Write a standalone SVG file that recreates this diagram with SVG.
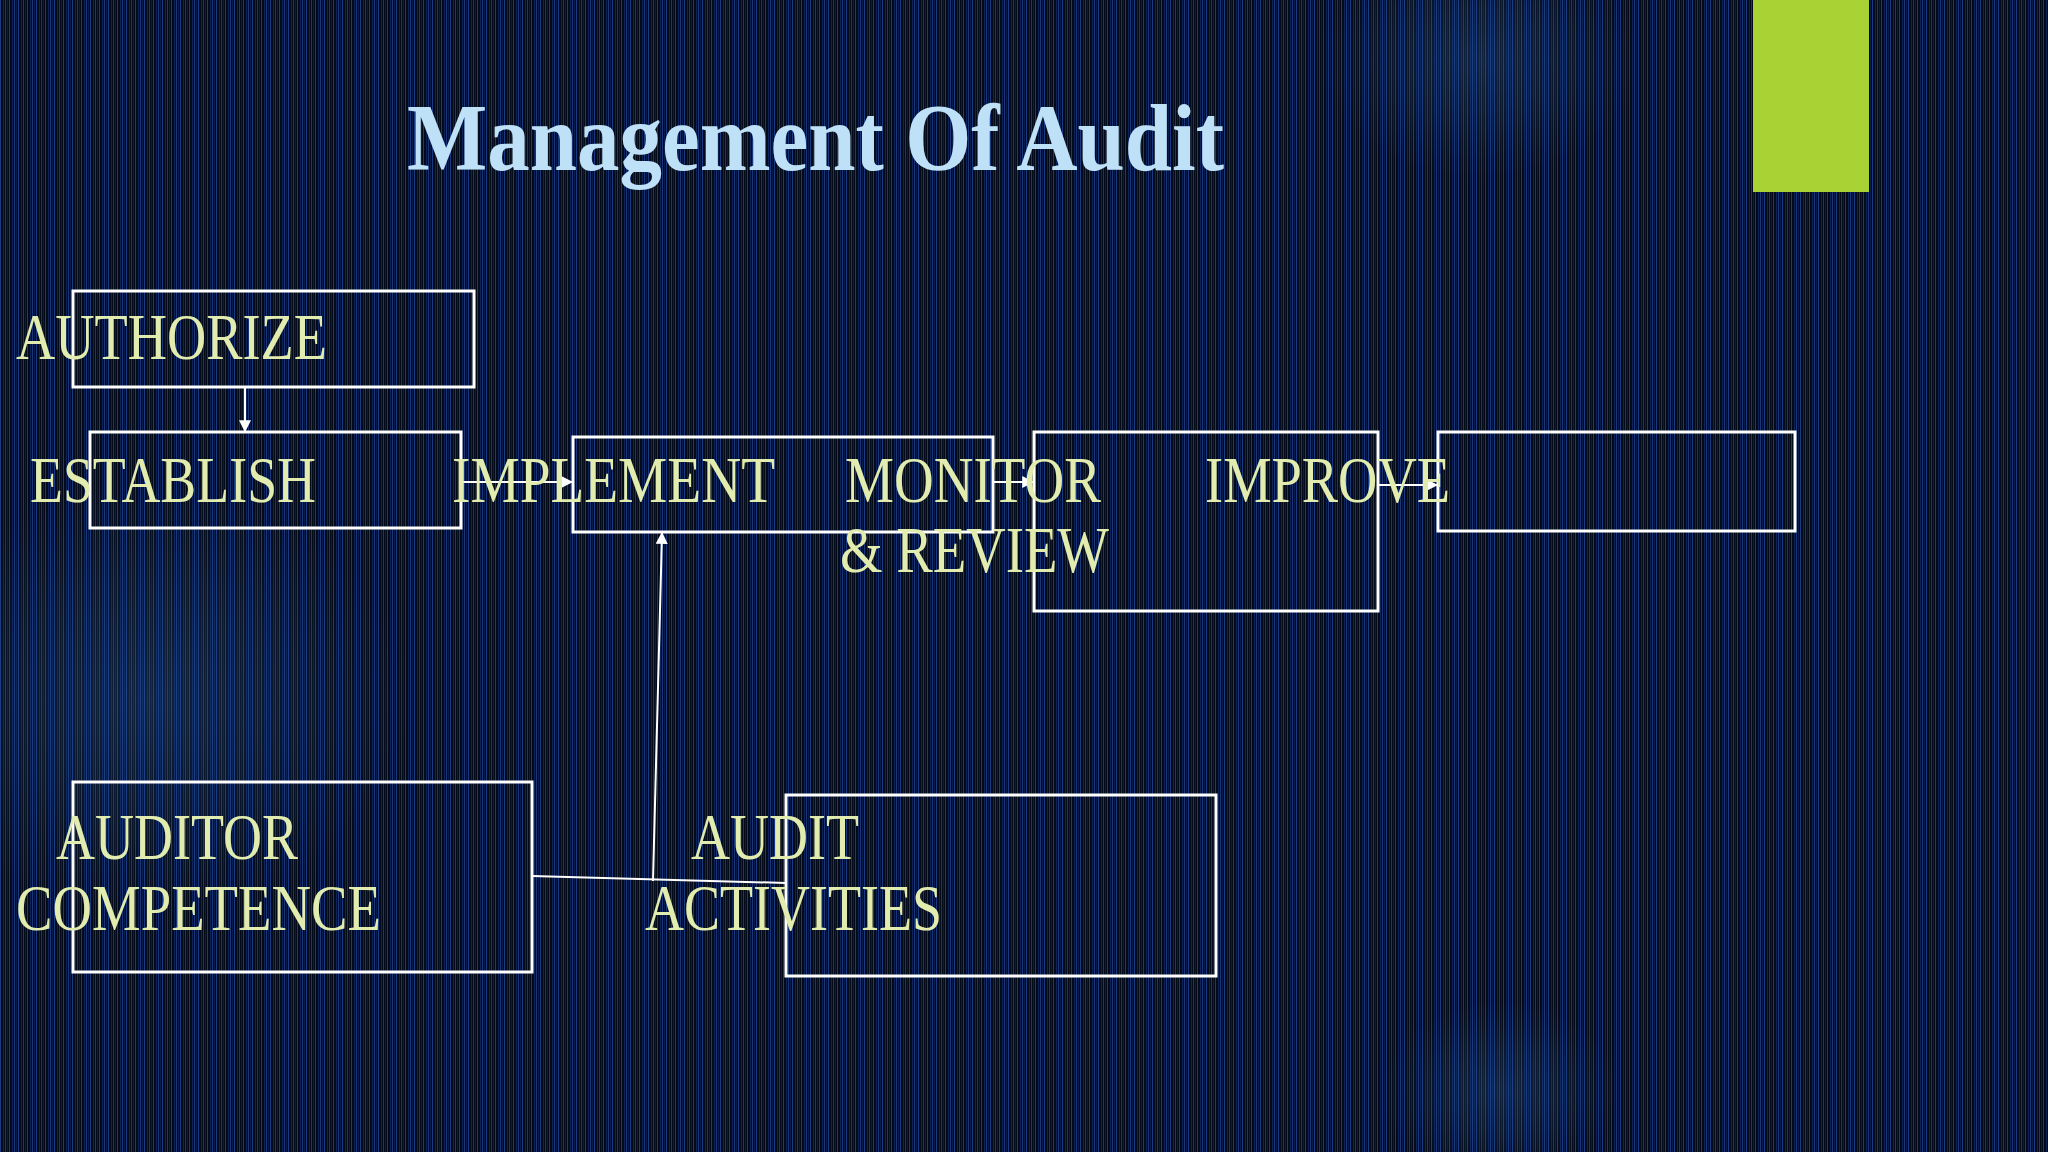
<svg xmlns="http://www.w3.org/2000/svg" width="2048" height="1152" viewBox="0 0 2048 1152">
<defs>
<pattern id="stripes" x="0" y="0" width="9" height="1152" patternUnits="userSpaceOnUse">
<rect x="0" y="0" width="9" height="1152" fill="#030a1a"/>
<rect x="0" y="0" width="1" height="1152" fill="#183a80"/>
<rect x="3" y="0" width="1" height="1152" fill="#0c245a"/>
<rect x="5" y="0" width="1" height="1152" fill="#1a3676"/>
<rect x="7" y="0" width="1" height="1152" fill="#0a1c48"/>
</pattern>
<radialGradient id="glow1" cx="0.5" cy="0.5" r="0.5">
<stop offset="0" stop-color="#2a5a9a" stop-opacity="0.3"/>
<stop offset="1" stop-color="#2a5a9a" stop-opacity="0"/>
</radialGradient>
<marker id="arrow" viewBox="0 0 10 10" refX="9" refY="5" markerWidth="6" markerHeight="6" orient="auto" markerUnits="strokeWidth">
<path d="M0,0 L10,5 L0,10 z" fill="#ffffff"/>
</marker>
<style>
.box{fill:none;stroke:#ffffff;stroke-width:3}
.lbl{font-family:"Liberation Serif","DejaVu Serif",serif;font-size:66px;fill:#e2ecae}
.conn{stroke:#ffffff;stroke-width:2;fill:none}
.title{font-family:"Liberation Serif","DejaVu Serif",serif;font-weight:bold;font-size:96px;fill:#bfe1f7}
</style>
</defs>
<rect x="0" y="0" width="2048" height="1152" fill="url(#stripes)"/>
<ellipse cx="1480" cy="60" rx="160" ry="120" fill="url(#glow1)"/>
<ellipse cx="150" cy="700" rx="260" ry="220" fill="url(#glow1)"/>
<ellipse cx="1500" cy="1090" rx="120" ry="90" fill="url(#glow1)"/>
<rect x="1753" y="0" width="116" height="192" fill="#a9d235"/>
<text class="title" x="407" y="170" textLength="817" lengthAdjust="spacingAndGlyphs">Management Of Audit</text>
<g id="connectors">
<line class="conn" x1="245" y1="387" x2="245" y2="431" marker-end="url(#arrow)"/>
<line class="conn" x1="461" y1="482" x2="572" y2="482" marker-end="url(#arrow)"/>
<line class="conn" x1="993" y1="482" x2="1033" y2="482" marker-end="url(#arrow)"/>
<line class="conn" x1="1378" y1="485" x2="1437" y2="485" marker-end="url(#arrow)"/>
<polyline class="conn" points="532,876 786,883"/>
<line class="conn" x1="653" y1="881" x2="662" y2="533" marker-end="url(#arrow)"/>
</g>
<g id="authorize">
<rect class="box" x="73" y="291" width="401" height="96"/>
<text class="lbl" x="16" y="359" textLength="311" lengthAdjust="spacingAndGlyphs">AUTHORIZE</text>
</g>
<g id="establish">
<rect class="box" x="90" y="432" width="371" height="96"/>
<text class="lbl" x="30" y="502" textLength="286" lengthAdjust="spacingAndGlyphs">ESTABLISH</text>
</g>
<g id="implement">
<rect class="box" x="573" y="437" width="420" height="95"/>
<text class="lbl" x="452" y="502" textLength="323" lengthAdjust="spacingAndGlyphs">IMPLEMENT</text>
</g>
<g id="monitor">
<rect class="box" x="1034" y="432" width="344" height="179"/>
<text class="lbl" x="845" y="502" textLength="256" lengthAdjust="spacingAndGlyphs">MONITOR</text>
<text class="lbl" x="840" y="572" textLength="269" lengthAdjust="spacingAndGlyphs">&amp; REVIEW</text>
</g>
<g id="improve">
<rect class="box" x="1438" y="432" width="357" height="99"/>
<text class="lbl" x="1205" y="502" textLength="245" lengthAdjust="spacingAndGlyphs">IMPROVE</text>
</g>
<g id="auditor-competence">
<rect class="box" x="73" y="782" width="459" height="190"/>
<text class="lbl" x="56" y="859" textLength="242" lengthAdjust="spacingAndGlyphs">AUDITOR</text>
<text class="lbl" x="16" y="930" textLength="365" lengthAdjust="spacingAndGlyphs">COMPETENCE</text>
</g>
<g id="audit-activities">
<rect class="box" x="786" y="795" width="430" height="181"/>
<text class="lbl" x="691" y="859" textLength="168" lengthAdjust="spacingAndGlyphs">AUDIT</text>
<text class="lbl" x="645" y="930" textLength="297" lengthAdjust="spacingAndGlyphs">ACTIVITIES</text>
</g>
</svg>
